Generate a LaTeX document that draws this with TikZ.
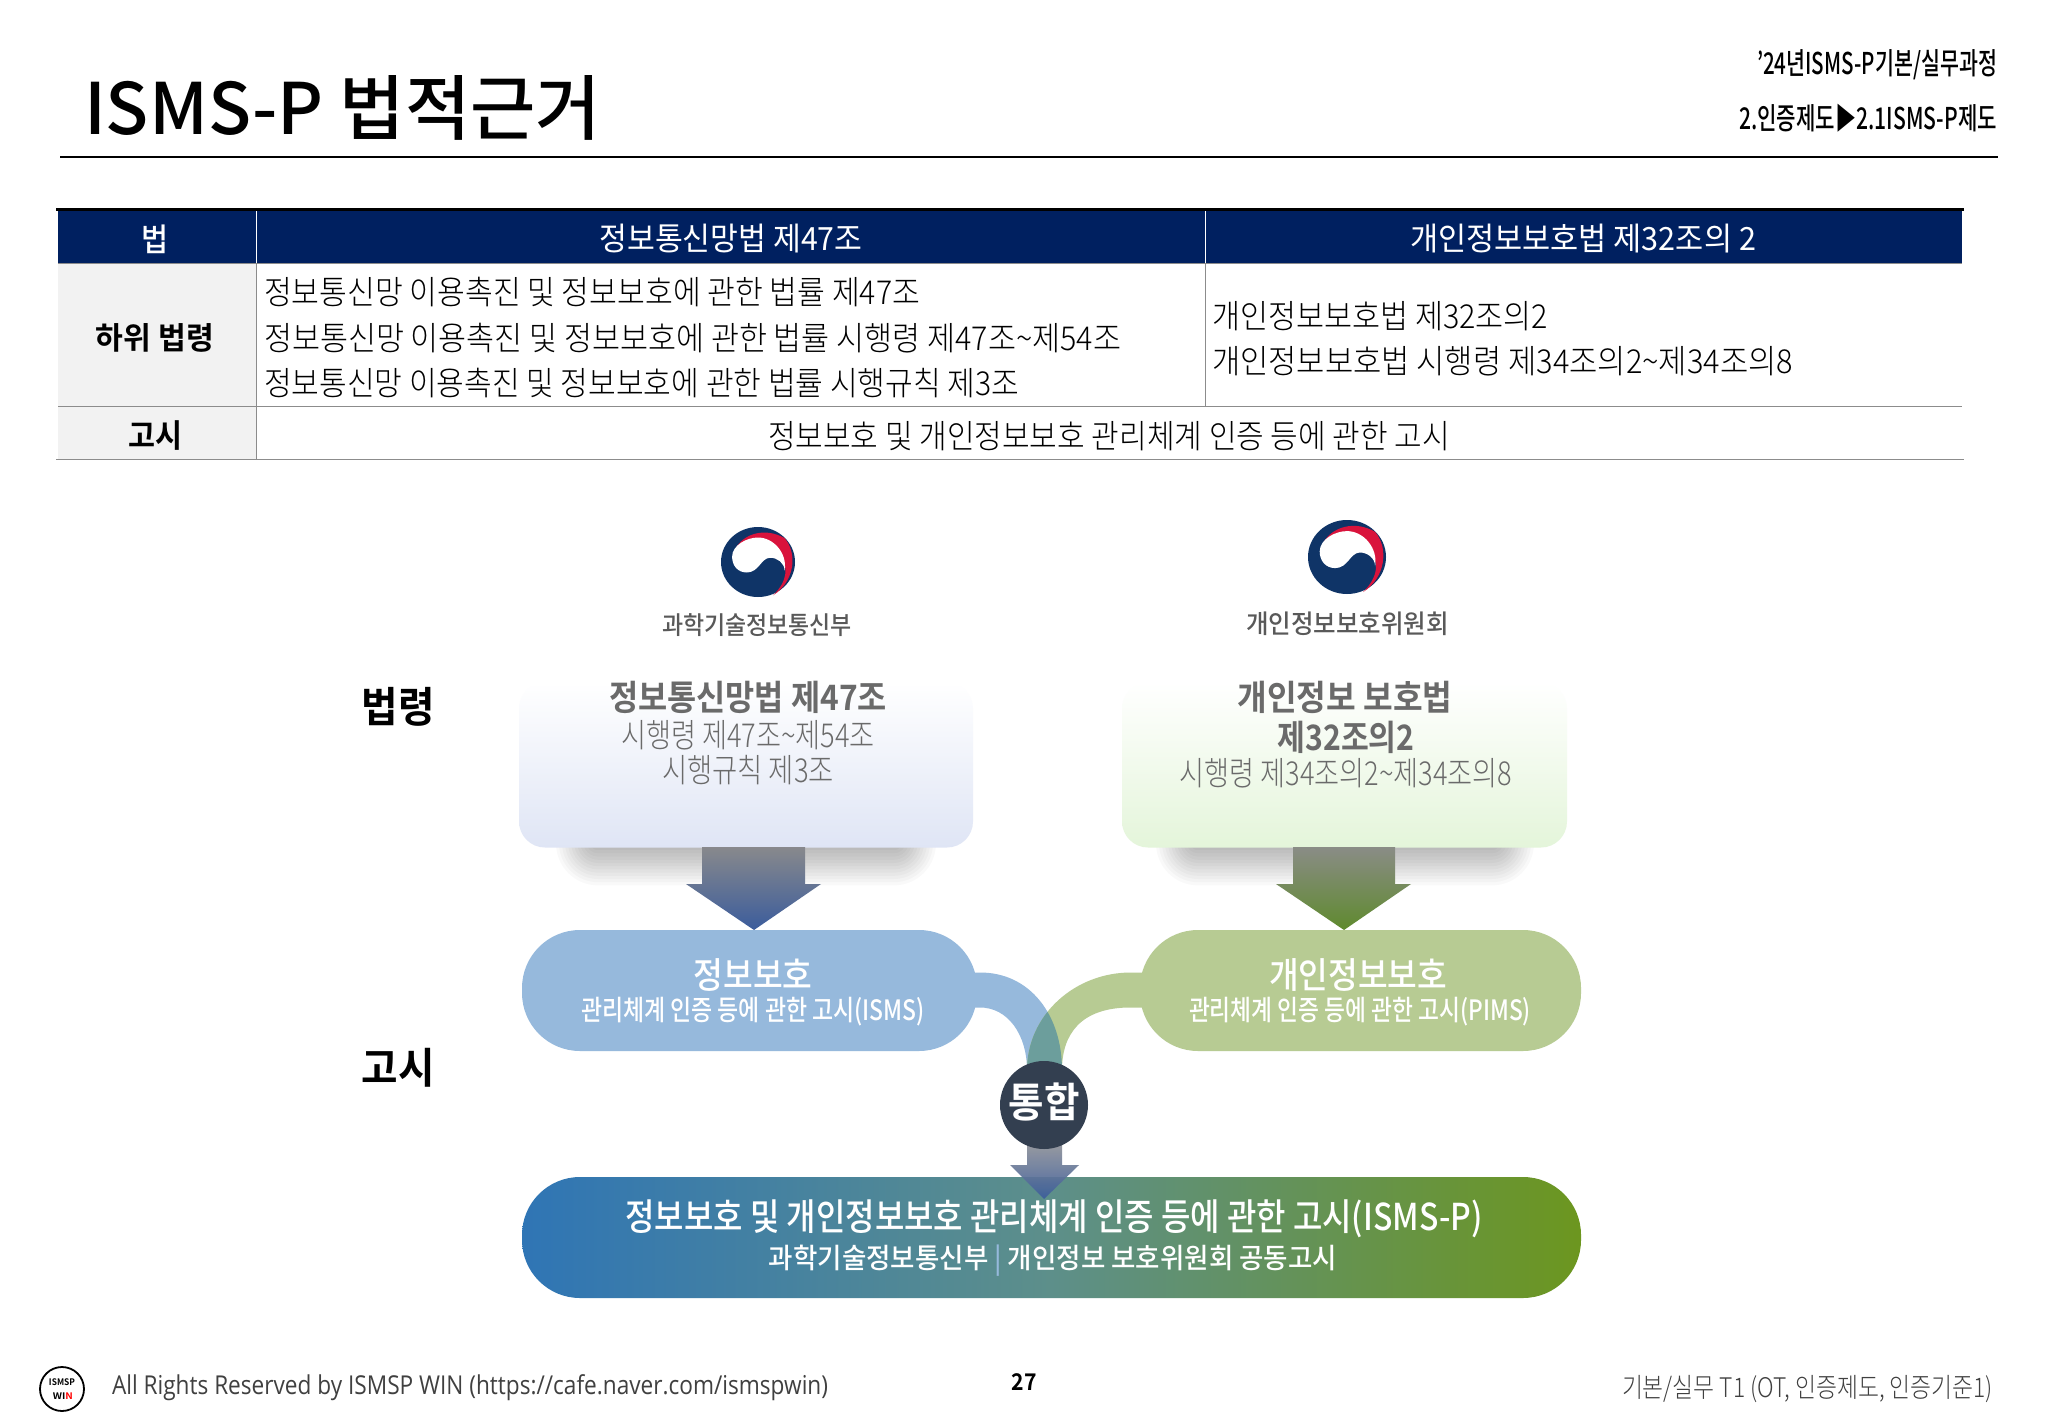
\documentclass[tikz,border=0pt]{standalone}
\usepackage{fontspec}
\usepackage{graphicx}
\usetikzlibrary{calc}
\setmainfont{Noto Sans CJK KR}
\newfontfamily\kr{Noto Sans CJK KR}
\newfontfamily\krl{Noto Sans CJK KR Light}
\newfontfamily\krm{Noto Sans CJK KR Medium}
\newfontfamily\krb{Noto Sans CJK KR Bold}
\newfontfamily\opn{Open Sans}
% font, size, exact width, text
\newcommand\T[4]{\resizebox{#3pt}{\height}{\fontsize{#2}{#2}\selectfont #1{}#4}}
\newcommand\tld{\char126\relax}
\definecolor{navyhead}{HTML}{002060}
\definecolor{rowgray}{HTML}{F2F2F2}
\definecolor{rule}{HTML}{8C8C8C}
\definecolor{greytx}{HTML}{6A6A6A}
\definecolor{pillblue}{HTML}{96B9DC}
\definecolor{pillgreen}{HTML}{B7CB93}
\definecolor{overlap}{HTML}{6C9E9C}
\definecolor{darkdisc}{HTML}{333F50}
\definecolor{emblemnavy}{HTML}{0F3467}
\definecolor{emblemred}{HTML}{D9133C}
\definecolor{lawblue}{HTML}{DFE5F5}
\definecolor{lawgreen}{HTML}{E4F5DA}
\definecolor{arrowgrey}{HTML}{88898C}
\definecolor{arrowgreyg}{HTML}{8A8C86}
\definecolor{arrowblue}{HTML}{3B5C9C}
\definecolor{arrowgreen}{HTML}{5F8A2E}
\definecolor{barblue}{HTML}{2F75B5}
\definecolor{bargreen}{HTML}{6C961F}
\definecolor{barmid}{HTML}{5D8F8A}
\tikzset{
  tx/.style={inner sep=0pt,outer sep=0pt},
  lefttx/.style={tx,anchor=west},
  wtx/.style={tx,text=white},
  gtx/.style={tx,text=greytx},
  lawbox/.style={rounded corners=26pt,minimum width=#1,minimum height=165pt,inner sep=0pt,draw=none},
  pill/.style={rounded corners=58pt,minimum width=#1,minimum height=121pt,inner sep=0pt,draw=none},
}
\newcommand\emblem[4]{%
  \begin{scope}[shift={(#1,#2)},x=#3pt,y=#4pt]
    \fill[emblemnavy] (0,0) circle (1);
    \fill[emblemred] (-0.62,0.36) .. controls (-0.4,0.82) and (0.2,1.0) .. (0.72,0.68)
      .. controls (1.07,0.25) and (1.0,-0.55) .. (0.41,-0.95)
      .. controls (0.8,-0.55) and (0.85,-0.1) .. (0.55,0.2)
      .. controls (0.3,0.4) and (0,0.5) .. (-0.3,0.4) -- cycle;
    \fill[white] (-0.7,0.15) .. controls (-0.7,0.48) and (-0.3,0.7) .. (0,0.7)
      .. controls (0.42,0.7) and (0.8,0.25) .. (0.72,-0.25)
      .. controls (0.72,-0.03) and (0.52,0.13) .. (0.32,0.12)
      .. controls (0.08,0.11) and (0.02,-0.3) .. (-0.3,-0.3)
      .. controls (-0.55,-0.3) and (-0.7,-0.1) .. (-0.7,0.15) -- cycle;
  \end{scope}}
\newcommand\softshadow[3]{% x1 x2 y
  \foreach \i in {1,...,12}{
    \fill[black,opacity=0.024,rounded corners={3pt*\i+6pt}] ({#1+32-\i*3},{#3-50}) rectangle ({#2-32+\i*3},{#3+\i*3.2});
  }}
\begin{document}
\begin{tikzpicture}[x=1pt,y=-1pt]
\useasboundingbox (0,0) rectangle (2048,1418);
\fill[white] (0,0) rectangle (2048,1418);

% ---------- header
\node[tx,anchor=base west] (title) at (84,135) {\T{\krm}{71}{517}{ISMS-P 법적근거}};
\node[tx,anchor=east] (hdA) at (1997,65) {\T{\krm}{30}{240}{’24년ISMS-P기본/실무과정}};
\node[tx,anchor=east] (hdB) at (1997,118) {\T{\krm}{30}{258}{2.인증제도▶2.1ISMS-P제도}};
\coordinate (ruleA) at (60,157.5);
\coordinate (ruleB) at (1998,157.5);
\draw[black,line width=2pt] (ruleA) -- (ruleB);

% ---------- table
\fill[navyhead] (58,210) rectangle (1962,263);
\fill[rowgray] (58,263) rectangle (256,459);
\draw[black,line width=3.2pt] (56,209.5) -- (1964,209.5);
\draw[rule,line width=1.6pt] (58,263.5) -- (1962,263.5);
\draw[rule,line width=1.6pt] (58,406.5) -- (1962,406.5);
\draw[rule,line width=1.6pt] (56,459.5) -- (1964,459.5);
\draw[white,line width=1.4pt] (256.5,211) -- (256.5,263);
\draw[white,line width=1.4pt] (1205.5,211) -- (1205.5,263);
\draw[rule,line width=1.6pt] (256.5,263) -- (256.5,459);
\draw[rule,line width=1.6pt] (1205.5,263) -- (1205.5,406);

\node[wtx] (thA) at (155,239) {\T{\krm}{32}{27}{법}};
\node[wtx] (thB) at (731,239) {\T{\kr}{32}{263}{정보통신망법 제47조}};
\node[wtx] (thC) at (1583,239) {\T{\kr}{32}{346}{개인정보보호법 제32조의 2}};
\node[tx] (rowA) at (155,338) {\T{\krb}{31}{118}{하위 법령}};
\node[tx] (rowB) at (155,436) {\T{\krb}{32}{54}{고시}};
\node[lefttx] (cA) at (264,292) {\T{\krl}{33}{656}{정보통신망 이용촉진 및 정보보호에 관한 법률 제47조}};
\node[lefttx] (cB) at (264,338) {\T{\krl}{33}{857}{정보통신망 이용촉진 및 정보보호에 관한 법률 시행령 제47조\tld 제54조}};
\node[lefttx] (cC) at (264,383) {\T{\krl}{33}{755}{정보통신망 이용촉진 및 정보보호에 관한 법률 시행규칙 제3조}};
\node[lefttx] (cD) at (1212,316) {\T{\krl}{33}{336}{개인정보보호법 제32조의2}};
\node[lefttx] (cE) at (1212,361) {\T{\krl}{33}{581}{개인정보보호법 시행령 제34조의2\tld 제34조의8}};
\node[tx] (cF) at (1109,436) {\T{\krl}{33}{682}{정보보호 및 개인정보보호 관리체계 인증 등에 관한 고시}};

% ---------- emblems
\emblem{758}{562}{37}{35}
\emblem{1347}{557}{39}{37}
\node[tx,text=black!65] (orgA) at (757,625) {\T{\krm}{25}{190}{과학기술정보통신부}};
\node[tx,text=black!65] (orgB) at (1347.5,624) {\T{\krm}{26}{203}{개인정보보호위원회}};

% ---------- side labels
\node[tx] (lawlbl) at (398,707) {\T{\krb}{42}{73}{법령}};
\node[tx] (noticelbl) at (398,1068) {\T{\krb}{42}{73}{고시}};

% ---------- law boxes
\softshadow{560}{932}{847}
\softshadow{1160}{1530}{847}
\node[lawbox=454pt,top color=white,bottom color=lawblue] (boxL) at (746,765) {};
\node[lawbox=445pt,top color=white,bottom color=lawgreen] (boxR) at (1344.5,765) {};
\node[gtx] (lawLa) at (748,697) {\T{\krb}{35}{278}{정보통신망법 제47조}};
\node[gtx] (lawLb) at (748,735) {\T{\krl}{33}{254}{시행령 제47조\tld 제54조}};
\node[gtx] (lawLc) at (748,770) {\T{\krl}{33}{172}{시행규칙 제3조}};
\node[gtx] (lawRa) at (1345,697) {\T{\krb}{35}{215}{개인정보 보호법}};
\node[gtx] (lawRb) at (1346,737) {\T{\krb}{35}{137}{제32조의2}};
\node[gtx] (lawRc) at (1346,773) {\T{\krl}{33}{333}{시행령 제34조의2\tld 제34조의8}};

% ---------- block arrows from the law boxes to the pills
\coordinate (arrLtop) at (754,847);
\coordinate (arrRtop) at (1344,847);
\coordinate (arrLtip) at (754,930);
\coordinate (arrRtip) at (1344,930);
\shade[top color=arrowgrey,bottom color=arrowblue]
  ($(arrLtop)+(-52,0)$) -- ($(arrLtop)+(51,0)$) -- ($(arrLtop)+(51,37)$) -- ($(arrLtop)+(67,37)$)
  -- (arrLtip) -- ($(arrLtop)+(-68,37)$) -- ($(arrLtop)+(-52,37)$) -- cycle;
\shade[top color=arrowgreyg,bottom color=arrowgreen]
  ($(arrRtop)+(-51,0)$) -- ($(arrRtop)+(51,0)$) -- ($(arrRtop)+(51,37)$) -- ($(arrRtop)+(67,37)$)
  -- (arrRtip) -- ($(arrRtop)+(-68,37)$) -- ($(arrRtop)+(-51,37)$) -- cycle;

% ---------- bands joining the two pills
\node[pill=455pt,fill=pillblue] (pillL) at (749.5,990.5) {};
\node[pill=441pt,fill=pillgreen] (pillR) at (1360.5,990.5) {};
\coordinate (merge) at (1044,1105);
\def\bandL{($(pillL.east)+(-4,-18)$) -- ($(pillL.east)+(2,-18)$) .. controls (1030,972) and (1062,1015) .. (1062,1070)
   -- (1027,1070) .. controls (1027,1035) and (1008,1007) .. ($(pillL.east)+(2,17)$) -- ($(pillL.east)+(-4,17)$) -- cycle}
\def\bandR{($(pillR.west)+(4,-18)$) -- ($(pillR.west)+(-8,-18)$) .. controls (1075,972) and (1027,1015) .. (1027,1070)
   -- (1062,1070) .. controls (1062,1035) and (1080,1007) .. ($(pillR.west)+(-8,17)$) -- ($(pillR.west)+(4,17)$) -- cycle}
\fill[pillblue] \bandL;
\fill[pillgreen] \bandR;
\begin{scope}
  \clip \bandL;
  \fill[overlap] \bandR;
\end{scope}

\node[wtx] (pillLa) at (753,975) {\T{\krm}{36}{119}{정보보호}};
\node[wtx] (pillLb) at (753,1012) {\T{\krm}{28}{344}{관리체계 인증 등에 관한 고시(ISMS)}};
\node[wtx] (pillRa) at (1358,975) {\T{\krm}{36}{178}{개인정보보호}};
\node[wtx] (pillRb) at (1360,1012) {\T{\krm}{28}{342}{관리체계 인증 등에 관한 고시(PIMS)}};

% ---------- bottom bar
\shade[left color=barblue,right color=bargreen,middle color=barmid,rounded corners=58pt] (522,1177) rectangle (1581,1298);
\node[wtx] (barA) at (1054,1219) {\T{\krm}{37}{857}{정보보호 및 개인정보보호 관리체계 인증 등에 관한 고시(ISMS-P)}};
\node[wtx] (barB) at (1053,1261) {\T{\krm}{28}{568}{과학기술정보통신부 {\color{pillblue}|} 개인정보 보호위원회 공동고시}};

% ---------- merge arrow and disc
\coordinate (mergetip) at (1044,1199);
\shade[top color=arrowgrey!90!white,bottom color=arrowblue,opacity=0.92]
  (1027,1140) -- (1062,1140) -- (1062,1165) -- (1079,1165) -- (mergetip) -- (1010,1165) -- (1027,1165) -- cycle;
\node[circle,fill=darkdisc,minimum size=88pt,inner sep=0pt] (disc) at (merge) {};
\node[wtx] (discT) at (1044,1102) {\T{\krb}{41}{71}{통합}};

% ---------- footer
\node[circle,draw=black,line width=1.8pt,fill=white,minimum size=44pt,inner sep=0pt] (badge) at (62,1389) {};
\node[tx] (badgeA) at (62,1382) {\T{\krb}{9}{26}{ISMSP}};
\node[tx] (badgeB) at (63,1396) {\T{\krb}{9}{20}{WI{\color{red}N}}};
\node[lefttx,text=black!75] (foot) at (112,1388) {\T{\opn}{26}{716}{All Rights Reserved by ISMSP WIN (https://cafe.naver.com/ismspwin)}};
\node[tx] (page) at (1024,1382) {\T{\krb}{23}{25}{27}};
\node[tx,anchor=east,text=black!75] (footR) at (1993,1389) {\T{\krl}{27}{371}{기본/실무 T1 (OT, 인증제도, 인증기준1)}};
\end{tikzpicture}
\end{document}
